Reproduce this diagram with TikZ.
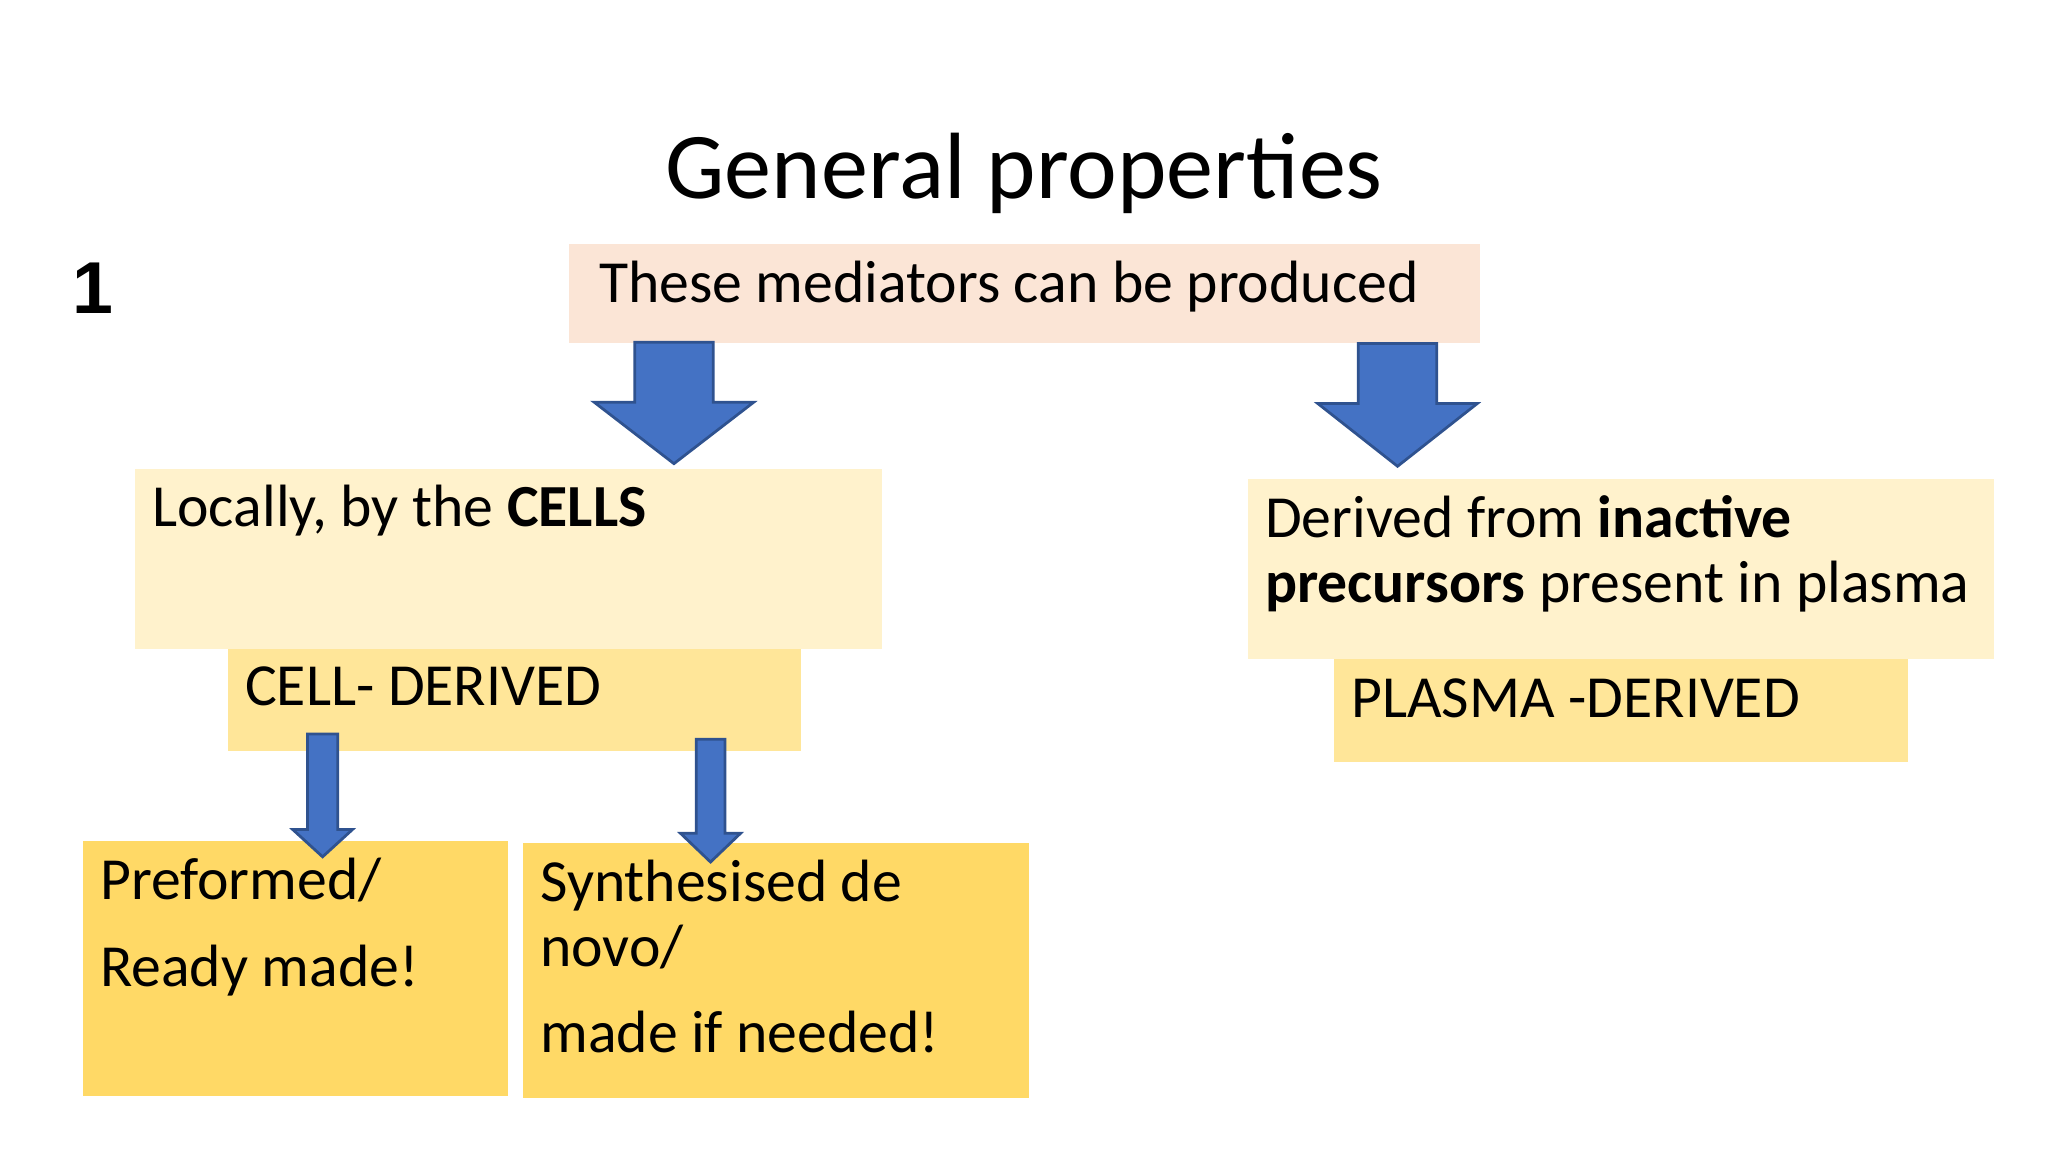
\documentclass[tikz,border=0pt]{standalone}
\usepackage{fontspec}
\setmainfont{Carlito}
\newfontfamily\numfont{Liberation Sans}
\definecolor{pinkbox}{HTML}{FBE5D6}
\definecolor{paleyel}{HTML}{FFF2CC}
\definecolor{midyel}{HTML}{FFE699}
\definecolor{deepyel}{HTML}{FFD966}
\definecolor{arrblue}{HTML}{4472C4}
\definecolor{arredge}{HTML}{2F528F}
\tikzset{
  box/.style={rectangle, anchor=north west, inner sep=0pt, draw=none},
  txt/.style={anchor=north west, inner sep=0pt, align=left, font=\fontsize{13}{14}\selectfont},
  blockarrow/.style={fill=arrblue, draw=arredge, line width=0.6pt}
}
% #1 centre x, #2 top y, #3 shaft half width, #4 head half width, #5 head base y, #6 tip y
\newcommand{\downarrowblock}[6]{%
  \draw[blockarrow] (#1-#3,#2) -- (#1+#3,#2) -- (#1+#3,#5) -- (#1+#4,#5)
    -- (#1,#6) -- (#1-#4,#5) -- (#1-#3,#5) -- cycle;}
\begin{document}
\begin{tikzpicture}[x=0.01cm, y=-0.01cm]
  \useasboundingbox (0,0) rectangle (1568,882);

  \node (title) at (784,133) {\fontsize{20.5}{24}\selectfont General properties};
  \node[anchor=base west, inner sep=0pt] (num) at (55,240) {\numfont\bfseries\fontsize{16}{18}\selectfont 1};

  % boxes
  \node[box, fill=pinkbox, minimum width=6.97cm, minimum height=0.76cm] (top) at (435,186) {};
  \node[box, fill=paleyel, minimum width=5.71cm, minimum height=1.38cm] (local) at (103,358) {};
  \node[box, fill=midyel, minimum width=4.38cm, minimum height=0.78cm] (cell) at (174,496) {};
  \node[box, fill=deepyel, minimum width=3.25cm, minimum height=1.95cm] (pre) at (63,643) {};
  \node[box, fill=deepyel, minimum width=3.87cm, minimum height=1.95cm] (syn) at (400,645) {};
  \node[box, fill=paleyel, minimum width=5.71cm, minimum height=1.38cm] (deriv) at (955,366) {};
  \node[box, fill=midyel, minimum width=4.39cm, minimum height=0.79cm] (plasma) at (1021,504) {};

  % texts
  \node[txt] (toptxt) at (458,199) {These mediators can be produced};
  \node[txt] (localtxt) at (116,371) {Locally, by the \textbf{CELLS}};
  \node[txt] (celltxt) at (187,510) {CELL- DERIVED};
  \node[txt, font=\fontsize{13}{19}\selectfont] (pretxt) at (76,656) {Preformed/\\Ready made!};
  \node[txt] (syntxt) at (413,658) {Synthesised de\\novo/\\[4.8pt]made if needed!};
  \node[txt] (derivtxt) at (968,379) {Derived from \textbf{inactive}\\\textbf{precursors} present in plasma};
  \node[txt] (plasmatxt) at (1034,519) {PLASMA -DERIVED};

  % arrows
  \downarrowblock{516}{262}{30}{61}{308}{355}
  \downarrowblock{1070}{263}{30}{61}{309}{357}
  \downarrowblock{247}{562}{11.5}{23}{635}{656}
  \downarrowblock{544}{566}{11}{23}{638}{660}
\end{tikzpicture}
\end{document}
